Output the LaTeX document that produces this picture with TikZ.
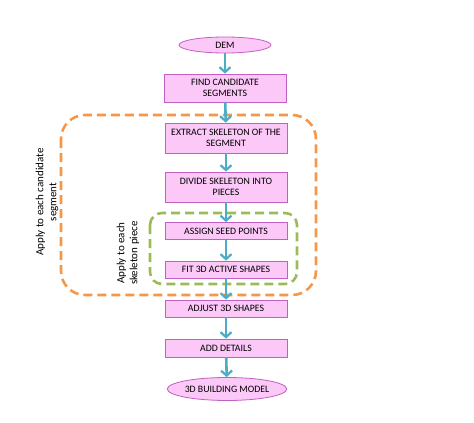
\documentclass[tikz,border=0pt]{standalone}
\usepackage{fontspec}
\setmainfont{Carlito}
\usetikzlibrary{arrows.meta,shapes.geometric}
\definecolor{boxfill}{HTML}{FBC8F7}
\definecolor{boxline}{HTML}{C060C0}
\definecolor{flowteal}{HTML}{4BACC6}
\definecolor{loopout}{HTML}{F79646}
\definecolor{loopin}{HTML}{9BBB59}
\tikzset{>={Straight Barb[length=5pt,width=11pt,line width=2.2pt]},
  stepbox/.style={draw=boxline,fill=boxfill,thick,minimum width=122pt,align=center,font=\fontsize{9.8}{11.5}\selectfont,inner sep=1pt},
  terminal/.style={draw=boxline,fill=boxfill,thick,ellipse,font=\fontsize{9.8}{11.5}\selectfont,inner sep=0pt},
  flow/.style={->,flowteal,line width=2.6pt},
  looplabel/.style={rotate=90,align=center,font=\fontsize{11}{13}\selectfont}}

\begin{document}
\begin{tikzpicture}[x=1pt,y=-1pt]
    \useasboundingbox (0,0) rectangle (474,423);
    % loops
    \draw [loopout,line width=2.6pt,dash pattern=on 9pt off 5pt,rounded corners=24pt] (61,115) rectangle (316,295);
    \draw [loopin,line width=2.6pt,dash pattern=on 9pt off 5pt,rounded corners=12pt] (150,213) rectangle (297,284);
    \node [looplabel] (outerlbl) at (47,202) {Apply to each candidate\\segment};
    \node [looplabel] (innerlbl) at (128,253) {Apply to each\\skeleton piece};
    % steps
    \node [terminal,minimum width=92pt,minimum height=16pt] (dem) at (225,45) {DEM};
    \node [stepbox,minimum height=28pt] (find) at (225,88) {FIND CANDIDATE\\SEGMENTS};
    \node [stepbox,minimum height=30pt] (extract) at (226,138) {EXTRACT SKELETON OF THE\\SEGMENT};
    \node [stepbox,minimum height=30pt] (divide) at (226,187) {DIVIDE SKELETON INTO\\PIECES};
    \node [stepbox,minimum height=17pt] (assign) at (226,231) {ASSIGN SEED POINTS};
    \node [stepbox,minimum height=17pt] (fit) at (226,269.5) {FIT 3D ACTIVE SHAPES};
    \node [stepbox,minimum height=17pt] (adjust) at (226,308.5) {ADJUST 3D SHAPES};
    \node [stepbox,minimum height=18pt] (details) at (226,348) {ADD DETAILS};
    \node [terminal,minimum width=102pt,minimum height=23pt] (model) at (227,389) {3D BUILDING MODEL};
    % arrows
    \foreach \a/\b in {dem/find,find/extract,extract/divide,divide/assign,assign/fit,fit/adjust,adjust/details,details/model}
      \draw [flow] (\a) -- (\b);
\end{tikzpicture}
\end{document}
